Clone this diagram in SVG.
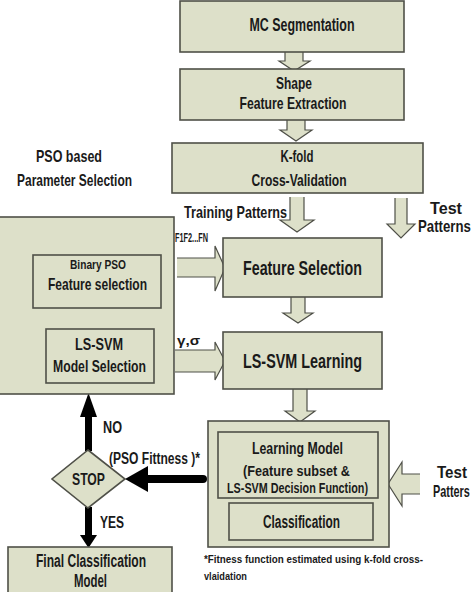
<svg xmlns="http://www.w3.org/2000/svg" width="474" height="592" viewBox="0 0 474 592">
<style>
.box{fill:#dde0c9;stroke:#4f5048;stroke-width:1.6}
.arr{fill:#dde0c9;stroke:#4f5048;stroke-width:1.2;stroke-linejoin:miter}
.t{font-family:"Liberation Sans Narrow","Liberation Sans",Arial,sans-serif;font-weight:bold;fill:#1a1a1a;text-anchor:middle}
.l{text-anchor:start}
.blk{stroke:#000;fill:none}
</style>
<rect width="474" height="592" fill="#fff"/>
<g id="connectors">
<path class="arr" d="M285,52 V61 H279 L294,71 L310,61 H303 V52"/>
<path class="arr" d="M287,120 V130 H280 L296,141 L312,130 H305 V120"/>
<path class="arr" d="M290,197 V220 H280 L297,232 L314,220 H304 V197"/>
<path class="arr" d="M395,198 V224 H387 L401,238 L415,224 H407 V198"/>
<path class="arr" d="M291,297 V313 H283 L298,323 L313,313 H305 V297"/>
<path class="arr" d="M293,389 V411 H285 L300,422 L315,411 H307 V389"/>
<path class="arr" d="M177,258 H215 V246 L225,268 L215,291 V277 H177"/>
<path class="arr" d="M175,350 H215 V342 L225,361 L215,380 V372 H175"/>
<path class="arr" d="M420,474 H402 V462 L388,484 L402,506 V494 H420"/>
<line class="blk" x1="88.5" y1="451" x2="88.5" y2="415" stroke-width="7"/>
<polygon points="80,417 97,417 88.5,393" fill="#000"/>
<line class="blk" x1="88.5" y1="507" x2="88.5" y2="537" stroke-width="7"/>
<polygon points="80,535 97,535 88.5,548" fill="#000"/>
<line class="blk" x1="203" y1="479" x2="145" y2="479" stroke-width="8" stroke-linecap="round"/>
<polygon points="148,466 148,492 125,479" fill="#000"/>
</g>
<g id="mc-segmentation">
<rect class="box" x="180" y="1" width="224" height="51"/>
<text class="t" x="302" y="31" font-size="17.5" textLength="105" lengthAdjust="spacingAndGlyphs">MC Segmentation</text>
</g>
<g id="shape-feature-extraction">
<rect class="box" x="180" y="69" width="224" height="51"/>
<text class="t" x="294" y="89" font-size="16.5" textLength="36" lengthAdjust="spacingAndGlyphs">Shape</text>
<text class="t" x="293" y="109" font-size="16.5" textLength="107" lengthAdjust="spacingAndGlyphs">Feature Extraction</text>
</g>
<g id="kfold-cross-validation">
<rect class="box" x="172" y="143" width="251" height="50"/>
<text class="t" x="297" y="162" font-size="16.5" textLength="33" lengthAdjust="spacingAndGlyphs">K-fold</text>
<text class="t" x="299" y="186" font-size="16.5" textLength="95" lengthAdjust="spacingAndGlyphs">Cross-Validation</text>
</g>
<g id="pso-title">
<text class="t" x="69" y="162" font-size="16.5" textLength="66" lengthAdjust="spacingAndGlyphs">PSO based</text>
<text class="t" x="74.5" y="186" font-size="16.5" textLength="115" lengthAdjust="spacingAndGlyphs">Parameter Selection</text>
</g>
<g id="labels">
<text class="t" x="235.5" y="218" font-size="16.5" textLength="103" lengthAdjust="spacingAndGlyphs">Training Patterns</text>
<text class="t" x="446" y="214" font-size="16.5" textLength="32" lengthAdjust="spacingAndGlyphs">Test</text>
<text class="t l" transform="translate(418,232) scale(0.8,1)" font-size="16.5">Patterns</text>
<text class="t l" x="175" y="242" font-size="12" textLength="33" lengthAdjust="spacingAndGlyphs">F1F2...FN</text>
<text class="t l" x="177" y="345" font-size="13" textLength="23" lengthAdjust="spacingAndGlyphs">γ,σ</text>
<text class="t" x="452" y="478" font-size="16.5" textLength="30" lengthAdjust="spacingAndGlyphs">Test</text>
<text class="t l" transform="translate(433,497) scale(0.66,1)" font-size="16.5">Patters</text>
<text class="t l" x="103" y="433" font-size="16.5" textLength="19" lengthAdjust="spacingAndGlyphs">NO</text>
<text class="t l" x="100" y="528" font-size="16.5" textLength="24" lengthAdjust="spacingAndGlyphs">YES</text>
<text class="t l" x="109" y="464" font-size="16" textLength="91" lengthAdjust="spacingAndGlyphs">(PSO Fittness )*</text>
<text class="t l" x="204" y="563" font-size="10.5" textLength="219" lengthAdjust="spacingAndGlyphs">*Fitness function estimated using k-fold cross-</text>
<text class="t l" x="204" y="580" font-size="10.5" textLength="43" lengthAdjust="spacingAndGlyphs">vlaidation</text>
</g>
<g id="pso-box">
<rect class="box" x="-2" y="217" width="176" height="177"/>
</g>
<g id="binary-pso">
<rect class="box" x="33" y="255" width="128" height="53"/>
<text class="t" x="98" y="269" font-size="13" textLength="56" lengthAdjust="spacingAndGlyphs">Binary PSO</text>
<text class="t" x="97.5" y="290" font-size="16.5" textLength="99" lengthAdjust="spacingAndGlyphs">Feature selection</text>
</g>
<g id="lssvm-model-selection">
<rect class="box" x="46" y="329" width="108" height="54"/>
<text class="t" x="99" y="350" font-size="16.5" textLength="48" lengthAdjust="spacingAndGlyphs">LS-SVM</text>
<text class="t" x="99.5" y="372" font-size="16.5" textLength="93" lengthAdjust="spacingAndGlyphs">Model Selection</text>
</g>
<g id="feature-selection">
<rect class="box" x="223" y="238" width="159" height="59"/>
<text class="t" x="302.5" y="275" font-size="20" textLength="119" lengthAdjust="spacingAndGlyphs">Feature Selection</text>
</g>
<g id="lssvm-learning">
<rect class="box" x="223" y="332" width="159" height="57"/>
<text class="t" x="302.5" y="368" font-size="20" textLength="119" lengthAdjust="spacingAndGlyphs">LS-SVM Learning</text>
</g>
<g id="evaluation-box">
<rect class="box" x="208" y="421" width="181" height="126"/>
</g>
<g id="learning-model">
<rect class="box" x="218" y="432" width="160" height="66"/>
<text class="t" x="297.5" y="454" font-size="16.5" textLength="91" lengthAdjust="spacingAndGlyphs">Learning Model</text>
<text class="t" x="296.5" y="476" font-size="15.5" textLength="107" lengthAdjust="spacingAndGlyphs">(Feature subset &amp;</text>
<text class="t" x="297.5" y="493" font-size="15.5" textLength="141" lengthAdjust="spacingAndGlyphs">LS-SVM Decision Function)</text>
</g>
<g id="classification">
<rect class="box" x="229" y="503" width="144" height="37"/>
<text class="t" x="301.5" y="528" font-size="18" textLength="77" lengthAdjust="spacingAndGlyphs">Classification</text>
</g>
<g id="stop">
<polygon class="box" points="88,450 125,479 88,508 52,479"/>
<text class="t" x="88.5" y="485" font-size="16.5" textLength="33" lengthAdjust="spacingAndGlyphs">STOP</text>
</g>
<g id="final-model">
<rect class="box" x="8" y="547" width="164" height="55"/>
<text class="t" x="91" y="567" font-size="17.5" textLength="110" lengthAdjust="spacingAndGlyphs">Final Classification</text>
<text class="t" x="90.5" y="587" font-size="17.5" textLength="33" lengthAdjust="spacingAndGlyphs">Model</text>
</g>
</svg>
